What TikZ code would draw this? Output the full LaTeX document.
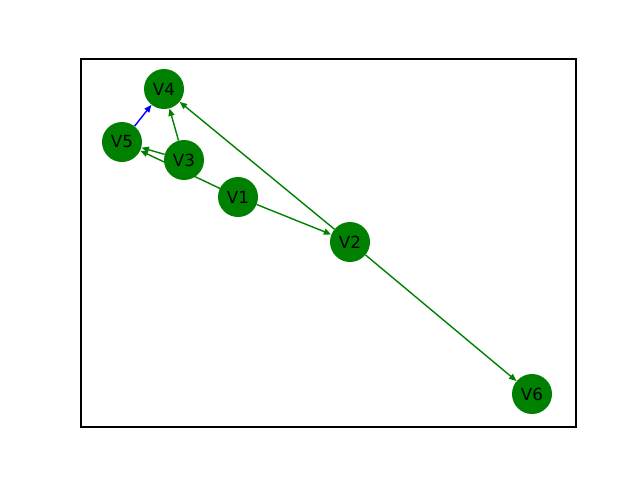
\documentclass[tikz,border=0pt]{standalone}
\usepackage{fontspec}
\setmainfont{DejaVu Sans}
\usetikzlibrary{arrows.meta,backgrounds}
\definecolor{mgreen}{HTML}{008000}
\definecolor{mblue}{HTML}{0000FF}
\begin{document}
\begin{tikzpicture}[x=1pt,y=-1pt,
  vnode/.style={circle,fill=mgreen,draw=none,minimum size=40pt,inner sep=0pt,font=\fontsize{16.7}{18}\selectfont},
  gedge/.style={draw=mgreen,line width=1.4pt,-{Triangle[length=7.5pt,width=6pt]}},
  bedge/.style={draw=mblue,line width=1.4pt,-{Triangle[length=7.5pt,width=6pt]}}]
\useasboundingbox (0,0) rectangle (640,480);
\draw[line width=1.1pt] (81,59) rectangle (576,427);
\node[vnode] (v4) at (164,89) {V4};
\node[vnode] (v5) at (122,142) {V5};
\node[vnode] (v3) at (184,160) {V3};
\node[vnode] (v1) at (238,197) {V1};
\node[vnode] (v2) at (350,242) {V2};
\node[vnode] (v6) at (532,394) {V6};
\begin{scope}[on background layer]
\draw[gedge] (v1.center) -- (v5);
\draw[gedge] (v3) -- (v5);
\draw[gedge] (v3) -- (v4);
\draw[bedge] (v5) -- (v4);
\draw[gedge] (v2) -- (v4);
\draw[gedge] (v1) -- (v2);
\draw[gedge] (v2) -- (v6);
\end{scope}
\end{tikzpicture}
\end{document}
